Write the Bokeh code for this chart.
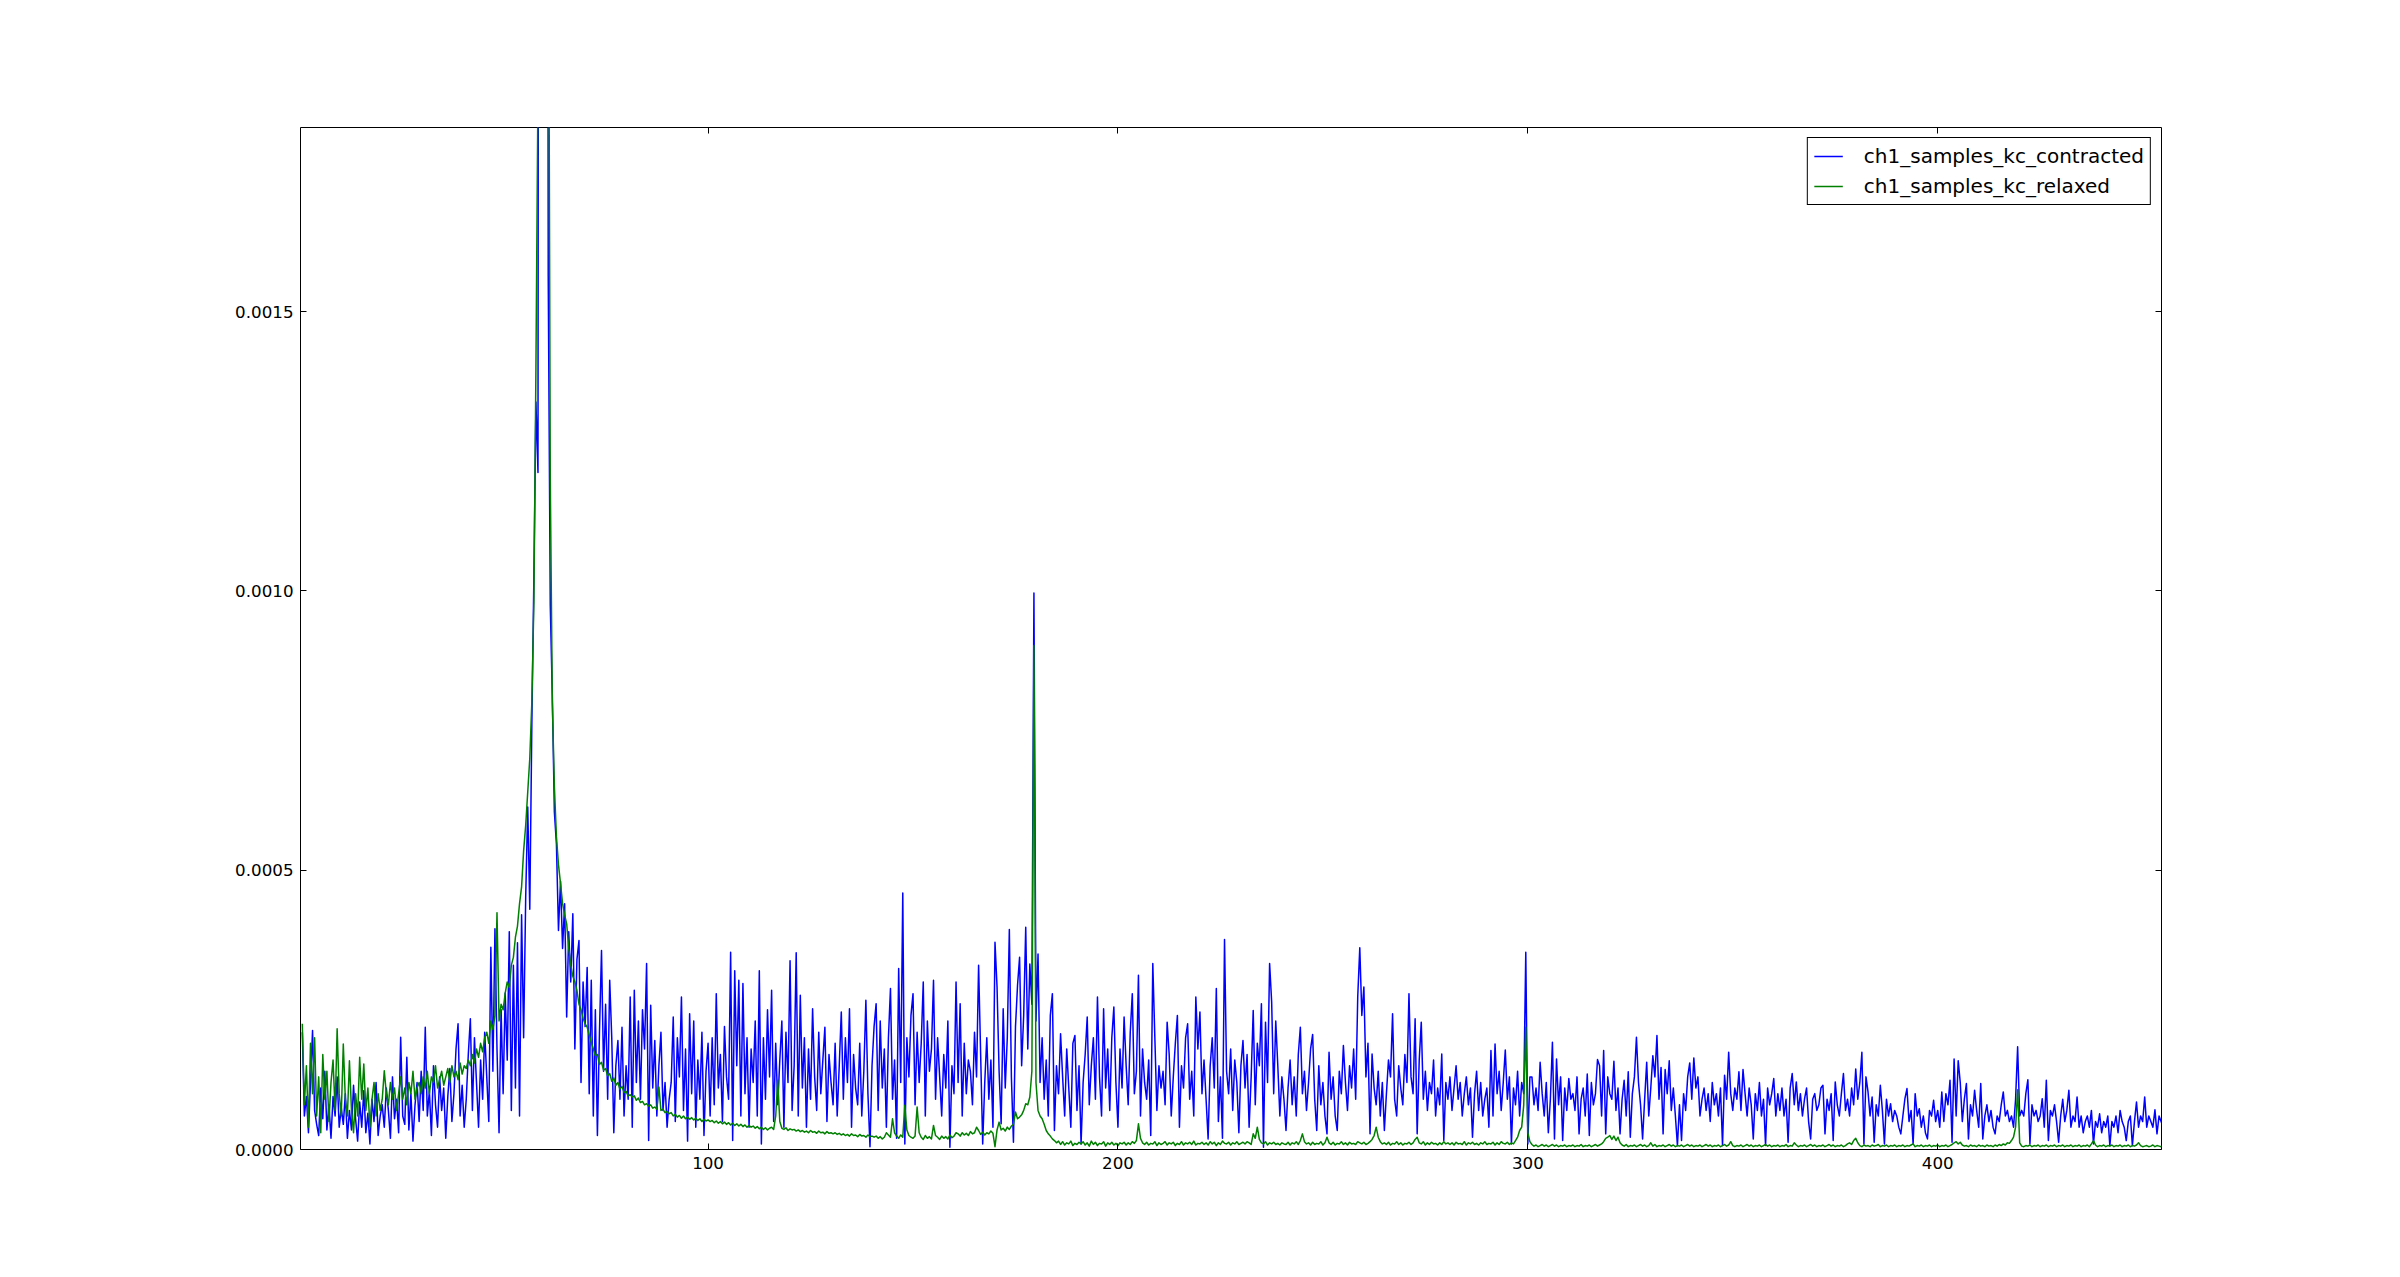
import numpy as np
from bokeh.plotting import figure
from bokeh.models import (Range1d, FixedTicker, LinearAxis, CustomJSTickFormatter,
                          PrintfTickFormatter, Legend, LegendItem)
from bokeh.embed import file_html
from bokeh.resources import INLINE

# ---- data (x grid: start + step*i ; values in units of 1e-6) ----
x_start = 1.0
x_step = 0.5

contracted_e6 = [
    210, 60, 95, 30, 120, 213, 70, 45, 25, 110, 55, 140, 35, 80, 20, 95, 60, 130, 40, 75,
    45, 100, 20, 70, 35, 115, 55, 15, 85, 40, 105, 30, 65, 10, 90, 50, 120, 25, 60, 80,
    40, 110, 70, 20, 130, 55, 90, 30, 201, 60, 45, 165, 35, 100, 15, 80, 120, 50, 140, 70,
    219, 60, 105, 25, 150, 80, 40, 130, 70, 110, 20, 95, 145, 50, 100, 180, 225, 60, 115, 40,
    90, 170, 234, 70, 200, 120, 40, 160, 90, 210, 130, 50, 362, 140, 395, 180, 30, 250, 100, 280,
    160, 390, 70, 330, 110, 370, 60, 420, 200, 450, 613, 430, 760, 1024, 1338, 1212, 6000, 9000, 8500, 5000,
    1564, 974, 811, 604, 547, 392, 480, 360, 440, 237, 390, 300, 422, 180, 340, 374, 120, 300, 220, 326,
    100, 303, 60, 250, 25, 210, 356, 140, 260, 90, 303, 200, 30, 150, 195, 90, 219, 60, 150, 90,
    273, 40, 285, 120, 230, 90, 250, 180, 333, 16, 258, 110, 195, 60, 150, 210, 70, 120, 40, 90,
    120, 237, 50, 200, 130, 273, 70, 180, 15, 243, 100, 230, 40, 160, 90, 210, 25, 140, 190, 60,
    200, 80, 279, 110, 170, 50, 220, 130, 90, 353, 16, 320, 150, 303, 60, 297, 100, 200, 40, 180,
    120, 230, 60, 320, 10, 200, 90, 250, 130, 285, 50, 190, 80, 160, 230, 40, 210, 120, 338, 70,
    150, 352, 60, 276, 110, 200, 40, 180, 90, 252, 130, 70, 210, 100, 160, 219, 50, 170, 120, 80,
    190, 60, 150, 246, 90, 200, 120, 252, 40, 170, 110, 80, 190, 60, 140, 267, 100, 5, 150, 220,
    261, 70, 230, 110, 180, 40, 200, 288, 90, 160, 20, 324, 120, 459, 10, 200, 130, 240, 279, 80,
    210, 120, 190, 300, 60, 230, 140, 180, 303, 90, 200, 130, 60, 170, 110, 230, 4, 150, 100, 300,
    120, 261, 60, 190, 100, 160, 140, 80, 210, 130, 330, 170, 10, 120, 200, 90, 160, 40, 371, 291,
    140, 46, 252, 110, 200, 394, 130, 13, 220, 294, 344, 150, 240, 398, 180, 332, 260, 996, 230, 350,
    120, 200, 90, 160, 60, 240, 279, 34, 150, 100, 207, 130, 60, 180, 110, 40, 190, 204, 70, 150,
    10, 120, 170, 237, 80, 150, 200, 90, 273, 130, 60, 252, 110, 180, 70, 200, 255, 120, 40, 180,
    110, 237, 150, 80, 210, 279, 100, 140, 312, 60, 180, 120, 90, 160, 25, 333, 200, 70, 150, 110,
    140, 80, 228, 170, 60, 130, 190, 240, 40, 150, 110, 200, 225, 90, 140, 60, 273, 180, 246, 100,
    160, 90, 19, 150, 200, 110, 288, 50, 130, 20, 376, 140, 100, 180, 70, 160, 120, 30, 150, 195,
    110, 170, 40, 130, 249, 80, 190, 150, 261, 4, 228, 120, 333, 264, 100, 230, 150, 60, 130, 90,
    34, 110, 160, 80, 130, 60, 170, 219, 100, 140, 70, 120, 180, 206, 90, 34, 150, 80, 120, 60,
    28, 174, 90, 130, 60, 34, 140, 100, 186, 120, 70, 150, 110, 180, 90, 273, 361, 240, 291, 130,
    190, 28, 171, 110, 80, 140, 60, 120, 34, 100, 160, 130, 243, 90, 60, 150, 110, 80, 170, 120,
    279, 130, 100, 234, 28, 160, 228, 90, 140, 70, 120, 100, 160, 60, 110, 80, 171, 16, 120, 90,
    130, 70, 110, 150, 90, 120, 60, 100, 130, 80, 110, 22, 100, 140, 70, 120, 60, 90, 110, 40,
    177, 60, 189, 100, 140, 70, 120, 178, 90, 130, 10, 110, 80, 140, 60, 120, 100, 353, 10, 130,
    130, 80, 110, 70, 156, 100, 60, 120, 30, 90, 192, 19, 162, 80, 130, 16, 110, 70, 127, 90,
    100, 70, 130, 28, 90, 110, 60, 135, 25, 120, 80, 100, 161, 150, 60, 177, 28, 130, 100, 90,
    158, 70, 110, 28, 90, 124, 60, 139, 22, 100, 130, 201, 120, 80, 19, 90, 156, 60, 110, 168,
    130, 204, 90, 147, 28, 143, 100, 159, 70, 110, 60, 7, 80, 16, 100, 70, 130, 155, 90, 164,
    110, 130, 60, 90, 110, 70, 100, 50, 120, 80, 100, 60, 110, 7, 133, 90, 174, 100, 70, 110,
    90, 139, 70, 143, 100, 60, 110, 80, 19, 100, 70, 120, 60, 90, 7, 110, 80, 100, 127, 60,
    100, 70, 110, 60, 90, 13, 110, 136, 80, 121, 70, 100, 60, 90, 110, 50, 19, 90, 100, 70,
    80, 110, 115, 28, 90, 70, 100, 16, 121, 80, 60, 100, 136, 70, 90, 60, 110, 80, 144, 90,
    120, 174, 10, 130, 103, 60, 94, 13, 80, 60, 115, 70, 10, 90, 60, 82, 50, 70, 60, 40,
    28, 60, 91, 109, 50, 70, 10, 100, 60, 73, 40, 60, 30, 19, 70, 60, 88, 50, 70, 40,
    103, 50, 100, 80, 124, 13, 162, 60, 159, 120, 50, 90, 118, 19, 80, 60, 106, 70, 40, 118,
    19, 60, 80, 50, 70, 40, 28, 60, 50, 80, 103, 60, 70, 50, 60, 40, 90, 184, 60, 70,
    60, 100, 125, 10, 80, 60, 70, 50, 60, 91, 40, 124, 16, 70, 60, 80, 50, 13, 60, 90,
    50, 70, 106, 40, 60, 50, 94, 40, 60, 30, 50, 60, 40, 70, 10, 50, 40, 64, 30, 50,
    40, 60, 7, 50, 40, 60, 30, 70, 50, 40, 16, 50, 60, 7, 50, 85, 40, 60, 50, 94,
    40, 60, 50, 40, 71, 28, 60, 50, 40,
]

relaxed_e6 = [
    225, 80, 150, 40, 190, 100, 200, 60, 130, 30, 170, 90, 140, 50, 120, 160, 70, 216, 100, 60,
    189, 90, 60, 159, 70, 30, 100, 60, 165, 90, 153, 70, 110, 40, 90, 120, 60, 100, 70, 90,
    141, 100, 80, 120, 90, 110, 70, 100, 130, 90, 110, 80, 120, 100, 140, 90, 110, 120, 100, 130,
    110, 140, 100, 130, 120, 150, 110, 125, 140, 115, 130, 145, 120, 150, 130, 140, 125, 155, 135, 150,
    145, 160, 150, 170, 155, 180, 165, 190, 175, 200, 210, 190, 230, 215, 240, 424, 230, 260, 250, 280,
    300, 290, 330, 344, 380, 400, 440, 470, 535, 580, 640, 700, 800, 980, 1400, 1900, 7000, 10000, 9000, 6000,
    2400, 1200, 800, 650, 560, 510, 476, 440, 420, 404, 360, 330, 310, 300, 285, 260, 250, 235, 225, 219,
    205, 192, 180, 168, 170, 152, 156, 142, 145, 132, 136, 122, 128, 115, 120, 108, 113, 102, 104, 96,
    98, 94, 96, 88, 92, 84, 86, 80, 82, 78, 80, 74, 76, 72, 112, 70, 72, 66, 68, 64,
    66, 60, 63, 58, 61, 56, 60, 55, 58, 54, 57, 53, 56, 52, 55, 50, 54, 51, 53, 50,
    52, 48, 51, 47, 50, 46, 49, 45, 48, 44, 47, 43, 46, 42, 45, 41, 44, 40, 43, 40,
    42, 38, 41, 37, 40, 36, 39, 35, 38, 40, 36, 60, 124, 50, 38, 36, 39, 34, 37, 35,
    36, 33, 35, 32, 34, 31, 33, 30, 34, 31, 32, 29, 33, 30, 31, 28, 32, 29, 30, 28,
    30, 27, 29, 26, 28, 25, 27, 24, 28, 25, 26, 23, 27, 24, 25, 22, 26, 23, 24, 22,
    24, 20, 23, 19, 22, 30, 26, 22, 55, 30, 24, 20, 26, 22, 79, 35, 25, 22, 20, 24,
    76, 30, 22, 18, 25, 20, 23, 19, 43, 25, 22, 18, 24, 20, 23, 19, 26, 21, 24, 30,
    28, 24, 30, 26, 29, 25, 32, 28, 30, 40, 34, 27, 31, 26, 30, 28, 33, 29, 5, 35,
    49, 35, 38, 33, 40, 36, 42, 45, 67, 55, 58, 62, 70, 82, 80, 94, 140, 902, 120, 70,
    60, 55, 45, 34, 28, 24, 19, 16, 12, 15, 9, 14, 8, 12, 10, 15, 7, 11, 9, 13,
    10, 14, 8, 12, 6, 15, 9, 13, 7, 11, 10, 14, 6, 12, 9, 13, 8, 11, 7, 12,
    10, 13, 8, 12, 9, 14, 11, 16, 46, 20, 12, 9, 13, 8, 11, 10, 14, 7, 12, 9,
    11, 14, 8, 12, 10, 13, 7, 11, 9, 14, 8, 12, 10, 13, 9, 15, 8, 11, 10, 13,
    9, 12, 8, 14, 10, 13, 7, 12, 9, 15, 11, 10, 13, 8, 12, 10, 14, 9, 11, 13,
    10, 14, 12, 9, 28, 20, 40, 18, 12, 10, 14, 8, 12, 10, 13, 9, 11, 8, 12, 10,
    9, 13, 8, 12, 10, 14, 9, 16, 28, 14, 10, 12, 8, 13, 9, 11, 10, 14, 8, 12,
    22, 12, 9, 13, 8, 11, 10, 14, 9, 12, 8, 13, 10, 11, 9, 14, 12, 10, 13, 9,
    11, 14, 18, 25, 40, 22, 14, 10, 12, 9, 13, 8, 11, 10, 14, 9, 12, 8, 11, 10,
    13, 9, 12, 18, 22, 12, 10, 14, 8, 12, 9, 13, 10, 11, 8, 12, 9, 14, 10, 12,
    9, 12, 8, 13, 10, 11, 9, 14, 8, 12, 10, 13, 9, 11, 8, 12, 10, 14, 9, 11,
    10, 13, 8, 12, 9, 14, 11, 10, 13, 9, 12, 10, 16, 22, 34, 40, 80, 219, 30, 14,
    9, 6, 8, 5, 7, 9, 6, 8, 5, 7, 9, 6, 8, 5, 7, 6, 8, 5, 7, 6,
    8, 5, 7, 6, 9, 5, 7, 6, 8, 5, 7, 9, 6, 8, 10, 14, 20, 22, 25, 18,
    24, 16, 22, 12, 8, 6, 9, 5, 7, 6, 8, 5, 7, 9, 6, 8, 5, 7, 12, 6,
    9, 5, 7, 6, 8, 5, 7, 9, 6, 8, 5, 7, 6, 8, 5, 7, 9, 6, 8, 5,
    7, 6, 8, 5, 7, 9, 6, 8, 5, 7, 6, 8, 5, 7, 9, 6, 8, 14, 7, 5,
    7, 6, 8, 5, 7, 9, 6, 8, 5, 7, 6, 8, 5, 7, 9, 6, 8, 5, 7, 6,
    8, 5, 7, 6, 9, 5, 7, 6, 12, 8, 5, 7, 6, 8, 5, 7, 9, 6, 8, 5,
    7, 6, 8, 5, 7, 9, 6, 8, 5, 7, 6, 8, 5, 7, 10, 12, 9, 16, 20, 12,
    7, 5, 8, 6, 7, 5, 8, 6, 7, 9, 5, 7, 6, 8, 5, 7, 6, 8, 5, 7,
    6, 8, 5, 7, 6, 8, 10, 5, 7, 6, 8, 5, 7, 6, 8, 5, 7, 6, 8, 5,
    7, 6, 8, 5, 7, 9, 12, 14, 10, 13, 8, 6, 7, 5, 8, 6, 7, 5, 8, 6,
    7, 5, 8, 6, 7, 5, 8, 6, 9, 7, 10, 8, 12, 11, 16, 22, 40, 107, 12, 6,
    5, 7, 6, 8, 5, 7, 6, 8, 5, 7, 6, 8, 5, 7, 6, 8, 5, 7, 6, 8,
    5, 7, 6, 8, 5, 7, 6, 8, 5, 7, 6, 8, 5, 10, 16, 8, 5, 7, 6, 8,
    5, 7, 6, 8, 5, 7, 6, 8, 5, 7, 6, 8, 5, 7, 6, 8, 12, 7, 5, 6,
    7, 5, 6, 8, 5, 7, 6, 5, 7,
]

series_labels = ["ch1_samples_kc_contracted", "ch1_samples_kc_relaxed"]
series_colors = ["#0000ff", "#008000"]
x_ticks = [100, 200, 300, 400]
y_ticks = [0.0, 0.0005, 0.0010, 0.0015]

yc = np.array(contracted_e6, dtype=float) * 1e-6
xc = x_start + x_step * np.arange(len(yc))
yr = np.array(relaxed_e6, dtype=float) * 1e-6
xr = x_start + x_step * np.arange(len(yr))

FONT = "DejaVu Sans"

p = figure(width=2384, height=1261, output_backend="svg", toolbar_location=None,
           x_range=Range1d(0.56, 454.6), y_range=Range1d(0.0, 0.0018294),
           min_border_left=300, min_border_right=223, min_border_top=127,
           min_border_bottom=112)
p.background_fill_color = "white"
p.border_fill_color = "white"
p.xgrid.visible = False
p.ygrid.visible = False
p.outline_line_color = "black"
p.outline_line_width = 1
p.outline_line_alpha = 1

r1 = p.line(xc, yc, line_color=series_colors[0], line_width=1.5, line_join="round")
r2 = p.line(xr, yr, line_color=series_colors[1], line_width=1.5, line_join="round")

def style_axis(ax, show_labels):
    ax.axis_line_color = None
    ax.major_tick_in = 6
    ax.major_tick_out = 0
    ax.minor_tick_line_color = None
    ax.major_tick_line_color = "black"
    ax.major_tick_line_width = 1
    ax.major_label_text_font = FONT
    ax.major_label_text_font_size = "16.7px"
    ax.major_label_text_color = "black"
    ax.major_label_standoff = 7
    if not show_labels:
        ax.formatter = CustomJSTickFormatter(code="return ''")

p.xaxis.ticker = FixedTicker(ticks=x_ticks)
p.xaxis.formatter = PrintfTickFormatter(format="%d")
p.yaxis.ticker = FixedTicker(ticks=y_ticks)
p.yaxis.formatter = PrintfTickFormatter(format="%.4f")
style_axis(p.xaxis[0], True)
style_axis(p.yaxis[0], True)

top_ax = LinearAxis(ticker=FixedTicker(ticks=x_ticks))
right_ax = LinearAxis(ticker=FixedTicker(ticks=y_ticks))
style_axis(top_ax, False)
style_axis(right_ax, False)
p.add_layout(top_ax, "above")
p.add_layout(right_ax, "right")

legend = Legend(items=[LegendItem(label=series_labels[0], renderers=[r1]),
                       LegendItem(label=series_labels[1], renderers=[r2])],
                location="top_right")
legend.label_text_font = FONT
legend.label_text_font_size = "20px"
legend.label_text_color = "black"
legend.border_line_color = "black"
legend.border_line_width = 1
legend.border_line_alpha = 1
legend.background_fill_color = "white"
legend.background_fill_alpha = 1
legend.padding = 6
legend.spacing = 6
legend.margin = 10
legend.glyph_width = 29
legend.glyph_height = 24
legend.label_height = 24
legend.label_standoff = 21
p.add_layout(legend)

open("out.html", "w").write(file_html(p, INLINE))
